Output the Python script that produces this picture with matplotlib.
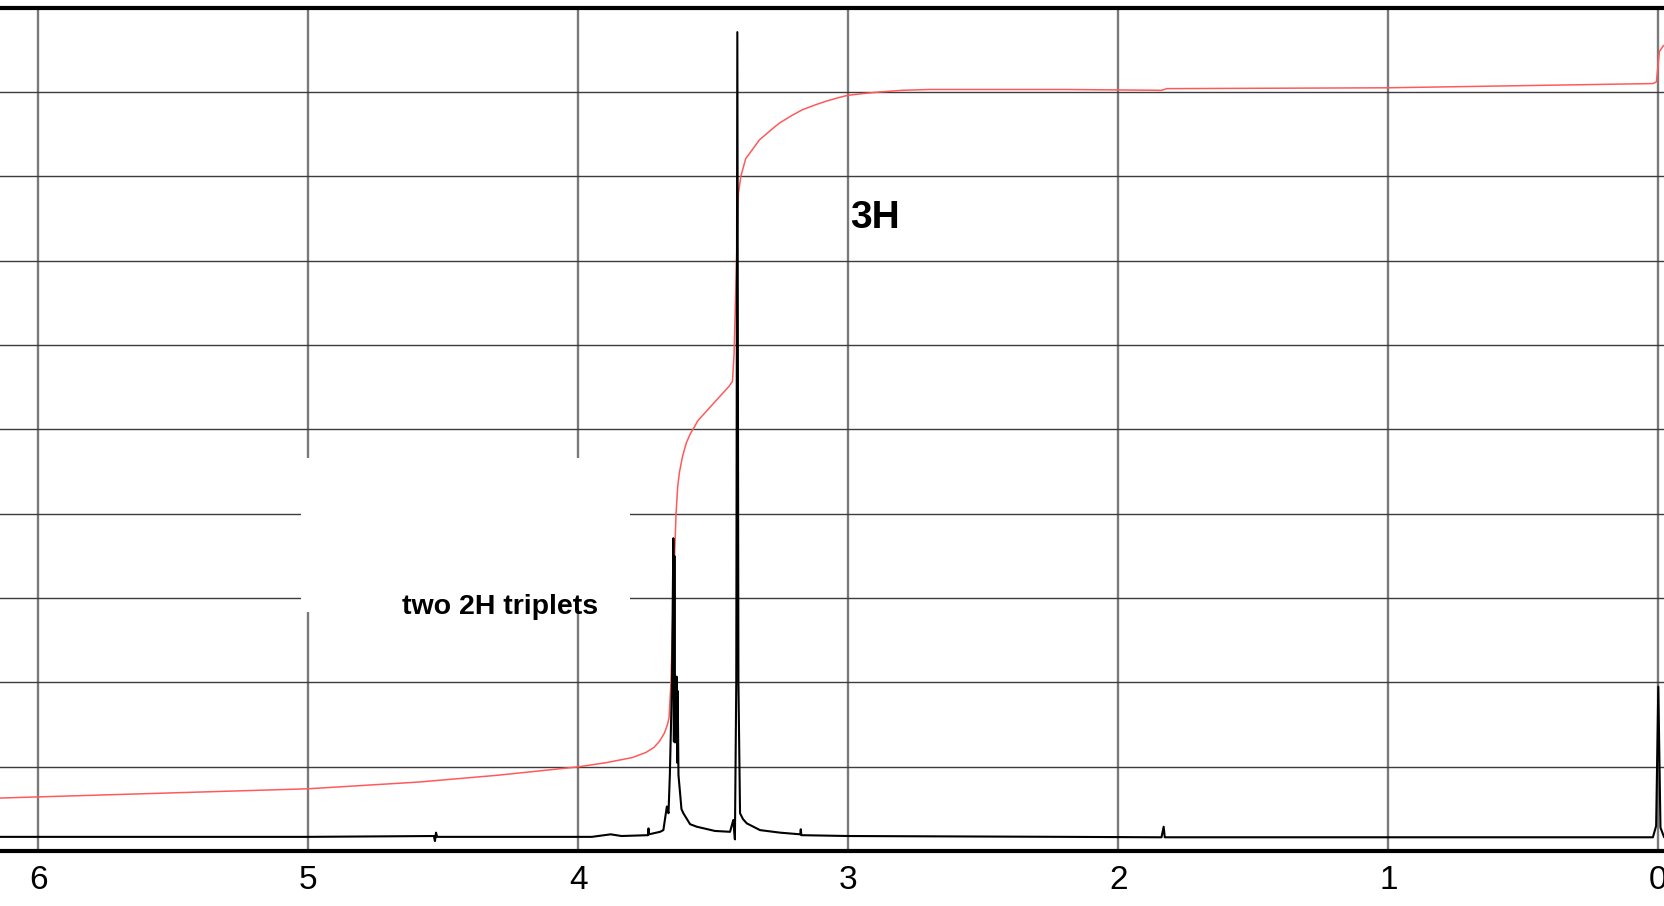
import numpy as np
import matplotlib.pyplot as plt
from matplotlib.patches import Rectangle

plt.rcParams['font.family'] = ['Liberation Sans', 'DejaVu Sans']

# espectro (ppm, intensidad)
ppm = [6.142, 5.65, 5.00, 4.535, 4.531, 4.527, 4.523, 3.95, 3.88, 3.84,
       3.742, 3.740, 3.738, 3.697, 3.685, 3.672, 3.666, 3.661, 3.653, 3.648,
       3.646, 3.644, 3.642, 3.636, 3.634, 3.632, 3.629, 3.622, 3.618, 3.611,
       3.586, 3.561, 3.494, 3.438, 3.426, 3.420, 3.415, 3.411, 3.407, 3.401,
       3.390, 3.376, 3.327, 3.253, 3.178, 3.176, 3.174, 3.0, 2.2, 1.84,
       1.832, 1.828, 1.0, 0.02, 0.008, 0.0, -0.008, -0.021]
inten = [0.17, 0.17, 0.17, 0.18, 0.12, 0.22, 0.17, 0.17, 0.20, 0.18,
         0.19, 0.27, 0.20, 0.23, 0.25, 0.53, 0.45, 0.90, 2.00, 3.71,
         1.30, 3.50, 1.29, 2.07, 1.05, 1.90, 0.90, 0.65, 0.50, 0.45,
         0.32, 0.29, 0.24, 0.23, 0.37, 0.14, 2.00, 9.71, 2.00, 0.45,
         0.38, 0.33, 0.25, 0.22, 0.20, 0.26, 0.19, 0.18, 0.17, 0.165,
         0.29, 0.165, 0.165, 0.165, 0.30, 1.95, 0.28, 0.17]

# curva de integral
int_ppm = [6.142, 5.00, 4.59, 4.30, 4.0, 3.896, 3.80, 3.75, 3.72, 3.70,
           3.681, 3.670, 3.664, 3.657, 3.648, 3.644, 3.638, 3.632, 3.625, 3.614,
           3.600, 3.585, 3.570, 3.558, 3.516, 3.442, 3.429, 3.423, 3.414, 3.407,
           3.398, 3.380, 3.35, 3.330, 3.29, 3.256, 3.21, 3.170, 3.12, 3.083,
           3.04, 3.003, 2.95, 2.885, 2.80, 2.70, 2.5, 2.2, 1.84, 1.82,
           1.0, 0.02, 0.007, -0.004, -0.019]
int_val = [0.63, 0.74, 0.82, 0.90, 1.00, 1.05, 1.11, 1.17, 1.23, 1.30,
           1.40, 1.50, 1.58, 1.99, 3.02, 3.45, 4.00, 4.32, 4.50, 4.68,
           4.84, 4.95, 5.03, 5.10, 5.25, 5.51, 5.57, 5.90, 7.00, 7.80,
           8.00, 8.21, 8.34, 8.43, 8.54, 8.63, 8.72, 8.79, 8.85, 8.89,
           8.93, 8.96, 8.98, 9.00, 9.02, 9.03, 9.03, 9.03, 9.02, 9.04,
           9.05, 9.10, 9.12, 9.48, 9.55]

ticks = [6, 5, 4, 3, 2, 1, 0]

fig = plt.figure(figsize=(16.64, 9.06), dpi=100)
ax = fig.add_axes([0, 54.8 / 906, 1, (851.2 - 7.65) / 906])
ax.set_xlim(6.1419, -0.0211)
ax.set_ylim(0, 10)

ax.set_xticks(ticks)
ax.set_xticklabels([str(t) for t in ticks])
ax.set_yticks(np.arange(0, 11))
ax.tick_params(axis='x', length=0, labelsize=24, pad=10)
ax.tick_params(axis='y', length=0, labelleft=False)
ax.set_axisbelow(True)
ax.xaxis.grid(True, color='#7a7a7a', lw=1.7)
ax.yaxis.grid(True, color='#3c3c3c', lw=1.0)

for s in ['left', 'right']:
    ax.spines[s].set_visible(False)
for s in ['top', 'bottom']:
    ax.spines[s].set_linewidth(3)
    ax.spines[s].set_zorder(5)

# caja blanca detras de la etiqueta
ax.add_patch(Rectangle((3.809, 2.836), 5.028 - 3.809, 4.66 - 2.836,
                       facecolor='white', edgecolor='none', zorder=1))

ax.plot(int_ppm, int_val, color='#ff5a5a', lw=1.1, zorder=2)
ax.plot(ppm, inten, color='black', lw=1.5, zorder=3)

ax.text(4.288, 2.812, 'two 2H triplets', ha='center', va='baseline',
        fontsize=20.5, fontweight='bold', zorder=4)
ax.text(2.992, 7.39, '3H', ha='left', va='baseline',
        fontsize=28, fontweight='bold', zorder=4)

plt.savefig('out.png', dpi=100)
